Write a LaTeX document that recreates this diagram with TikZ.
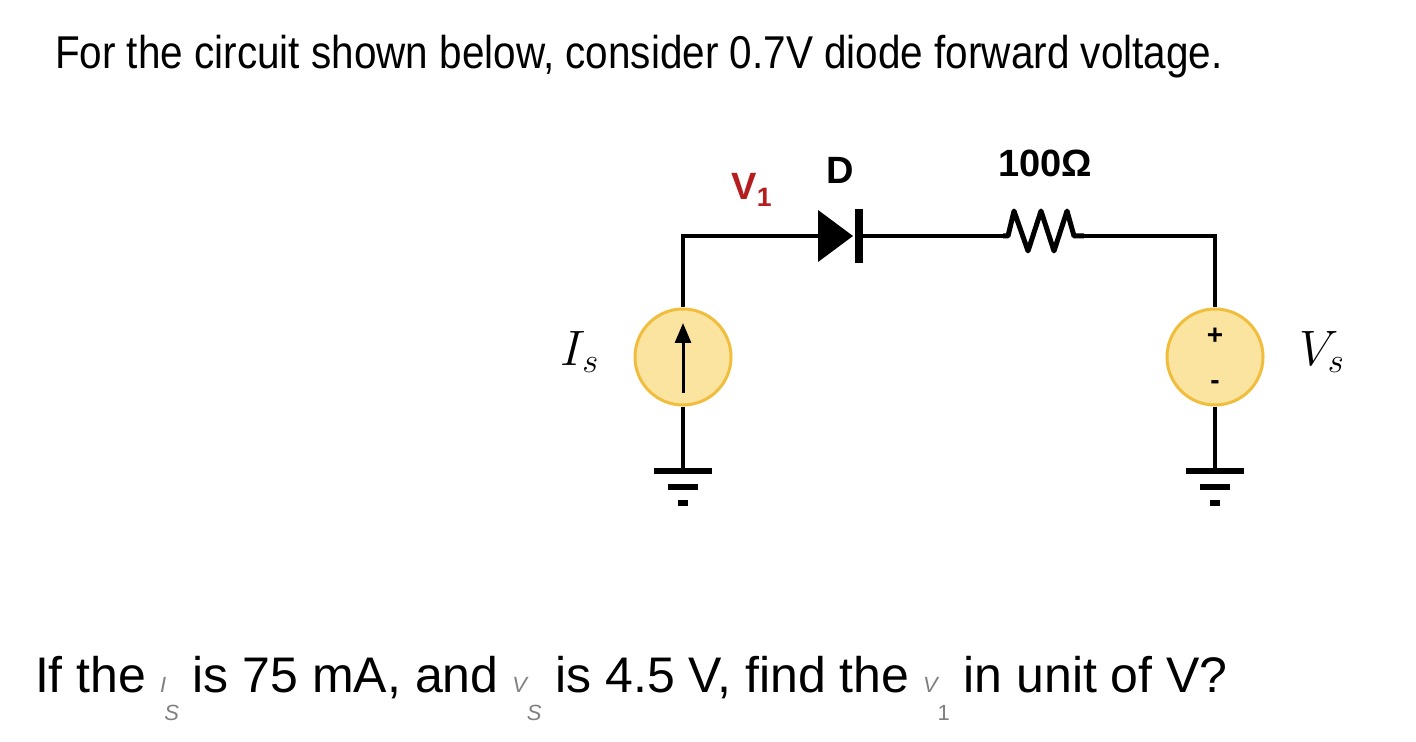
\documentclass[tikz,border=0pt]{standalone}
\usepackage{fontspec}
\setmainfont{Liberation Sans}
\usepackage{graphicx}
\usetikzlibrary{arrows.meta,calc,positioning}
\definecolor{srcfill}{RGB}{250,228,160}
\definecolor{srcedge}{RGB}{240,190,60}
\definecolor{labred}{RGB}{180,30,30}
\newcommand{\smallvar}[2]{{\color{gray}\fontsize{11}{11}\selectfont\textit{#1}\raisebox{-14pt}{\hspace{-1pt}#2}}}
\begin{document}
\begin{tikzpicture}[x=0.5pt,y=-0.5pt,
  wire/.style={line width=2pt},
  src/.style={circle,draw=srcedge,fill=srcfill,line width=1.5pt,minimum size=48pt,inner sep=0pt},
  lbl/.style={font=\bfseries\fontsize{19}{19}\selectfont},
  gnd/.style={line width=3pt}]
%
  \useasboundingbox (0,0) rectangle (1416,742);
%
  \node[anchor=west] (title) at (48,57) {\scalebox{0.88}[1]{\fontsize{23}{23}\selectfont For the circuit shown below, consider 0.7V diode forward voltage.}};
%
  \node[src] (is) at (683,357) {};
  \node[src] (vs) at (1215,357) {};
  \coordinate (tl) at (683,236);
  \coordinate (tr) at (1215,236);
  \coordinate (da) at (818,236);
  \coordinate (dk) at (859,236);
  \coordinate (ra) at (1003,236);
  \coordinate (rb) at (1084,236);
  \coordinate (gl) at (683,471);
  \coordinate (gr) at (1215,471);
%
  \draw[wire] (is.north) -- (tl) -- (da);
  \draw[wire] (dk) -- (ra);
  \draw[wire] (rb) -- (tr) -- (vs.north);
  \draw[wire] (is.south) -- (gl);
  \draw[wire] (vs.south) -- (gr);
  % diode
  \fill (818,210) -- (853,236) -- (818,262) -- cycle;
  \draw[line width=4pt] (859,209) -- (859,263);
  % resistor
  \draw[line width=2.5pt,line join=round] (ra) -- (1008,236) -- (1014,211) -- (1028,251) -- (1041,211) -- (1054,251) -- (1067,211) -- (1074,236) -- (rb);
  % grounds
  \foreach \g in {gl,gr} {
    \draw[gnd] ($(\g)+(-29,0)$) -- ($(\g)+(29,0)$);
    \draw[gnd] ($(\g)+(-15,16)$) -- ($(\g)+(15,16)$);
    \draw[gnd] ($(\g)+(-5,32)$) -- ($(\g)+(5,32)$);
  }
  % source marks
  \draw[line width=1.5pt,-{Triangle[length=10pt,width=8pt]}] ($(is.center)+(0,36)$) -- ($(is.center)+(0,-34)$);
  \node[font=\bfseries\fontsize{14}{14}\selectfont] (plus) at (1215,336) {+};
  \node[font=\bfseries\fontsize{14}{14}\selectfont] (minus) at (1215,385) {-};
%
  \node[lbl,text=labred] (v1) at (752,190) {V\textsubscript{1}};
  \node[lbl] (d) at (840,170) {D};
  \node[lbl] (r) at (1045,163) {100Ω};
  \node (isl) at (580,352) {\fontsize{24}{24}\selectfont$I_s$};
  \node (vsl) at (1322,352) {\fontsize{24}{24}\selectfont$V_s$};
%
  \node[anchor=west] (q) at (28,688) {\fontsize{25}{25}\selectfont If the \smallvar{I}{\textit{S}} is 75 mA, and \smallvar{V}{\textit{S}} is 4.5 V, find the \smallvar{V}{1} in unit of V?};
\end{tikzpicture}
\end{document}
